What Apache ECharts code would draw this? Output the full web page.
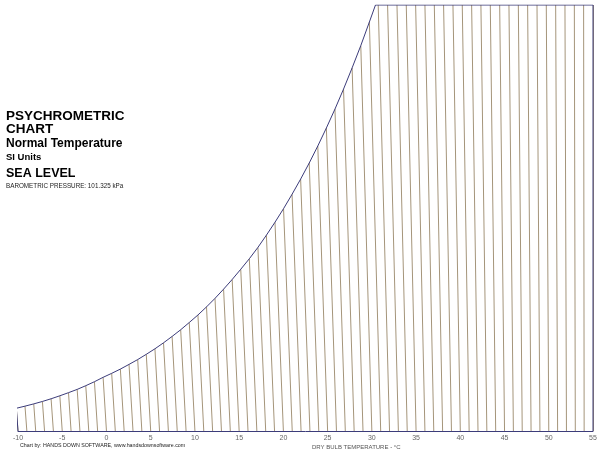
<!DOCTYPE html>
<html>
<head>
<meta charset="utf-8">
<title>Psychrometric Chart</title>
<script src="https://cdn.jsdelivr.net/npm/echarts@6/dist/echarts.min.js"></script>
<style>
    html, body { margin: 0; padding: 0; background: #fff; }
    #chart { width: 600px; height: 457px; }
</style>
</head>
<body>
<div id="chart"></div>
<script>
// dry bulb temperature lines, -10 .. 55 °C
var dbTemps = [-10, -9, -8, -7, -6, -5, -4, -3, -2, -1, 0, 1, 2, 3, 4, 5, 6, 7, 8, 9, 10,
    11, 12, 13, 14, 15, 16, 17, 18, 19, 20, 21, 22, 23, 24, 25, 26, 27, 28, 29, 30,
    31, 32, 33, 34, 35, 36, 37, 38, 39, 40, 41, 42, 43, 44, 45, 46, 47, 48, 49, 50,
    51, 52, 53, 54, 55];
// where each line ends at the top (x on the temperature scale, humidity ratio g/kg)
var topX = [-10.19, -9.21, -8.22, -7.24, -6.26, -5.27, -4.29, -3.31, -2.34, -1.36, -0.38,
    0.59, 1.57, 2.55, 3.53, 4.50, 5.48, 6.45, 7.42, 8.39, 9.36,
    10.34, 11.31, 12.27, 13.24, 14.21, 15.18, 16.15, 17.12, 18.08, 19.05,
    20.02, 20.98, 21.95, 22.92, 23.89, 24.86, 25.83, 26.80, 27.77, 28.75,
    29.72, 30.72, 31.78, 32.84, 33.89, 34.95, 36.00, 37.06, 38.11, 39.17,
    40.22, 41.28, 42.33, 43.39, 44.45, 45.50, 46.56, 47.61, 48.67, 49.72,
    50.78, 51.83, 52.89, 53.94, 55];
var topW = [1.60, 1.75, 1.91, 2.08, 2.27, 2.48, 2.70, 2.93, 3.19, 3.47, 3.78,
    4.06, 4.36, 4.69, 5.03, 5.40, 5.79, 6.21, 6.66, 7.13, 7.64,
    8.17, 8.74, 9.34, 9.99, 10.67, 11.39, 12.13, 12.93, 13.79, 14.70,
    15.66, 16.67, 17.74, 18.87, 20.07, 21.34, 22.67, 24.08, 25.57, 27.14,
    28.80, 30, 30, 30, 30, 30, 30, 30, 30, 30,
    30, 30, 30, 30, 30, 30, 30, 30, 30, 30,
    30, 30, 30, 30, 30];
// saturation curve meets the top of the chart here
var cornerX = 30.41;
var maxW = 30;
var xTicks = [-10, 55, 5];

var chart = echarts.init(document.getElementById('chart'));

var dbLines = [];
for (var i = 0; i < dbTemps.length; i++) {
    dbLines.push({ coords: [[dbTemps[i], 0], [topX[i], topW[i]]] });
}

// outline: left edge, saturation curve, top, right edge
var outline = [[dbTemps[0], 0]];
for (var j = 0; j < topW.length && topW[j] < maxW; j++) {
    outline.push([topX[j], topW[j]]);
}
outline.push([cornerX, maxW]);
outline.push([dbTemps[dbTemps.length - 1], maxW]);
outline.push([dbTemps[dbTemps.length - 1], 0]);

var font = 'Liberation Sans, Arial, sans-serif';

var option = {
    animation: false,
    grid: { left: 18, right: 7, top: 5, bottom: 26 },
    xAxis: {
        type: 'value',
        min: xTicks[0],
        max: xTicks[1],
        interval: xTicks[2],
        splitLine: { show: false },
        axisTick: { show: false },
        axisLine: { lineStyle: { color: '#3c3c7a', width: 1 } },
        axisLabel: { color: '#666', fontSize: 7, fontFamily: font, margin: 4 }
    },
    yAxis: {
        type: 'value',
        min: 0,
        max: maxW,
        show: false
    },
    series: [
        {
            type: 'lines',
            coordinateSystem: 'cartesian2d',
            silent: true,
            lineStyle: { color: '#a5957a', width: 1, opacity: 1 },
            data: dbLines
        },
        {
            type: 'line',
            data: outline,
            symbol: 'none',
            silent: true,
            lineStyle: { color: '#3c3c7a', width: 1 }
        }
    ],
    graphic: [
        { type: 'text', left: 6, top: 109, style: { text: 'PSYCHROMETRIC', font: 'bold 13.5px ' + font, fill: '#000' } },
        { type: 'text', left: 6, top: 122, style: { text: 'CHART', font: 'bold 13.5px ' + font, fill: '#000' } },
        { type: 'text', left: 6, top: 138, style: { text: 'Normal Temperature', font: 'bold 12px ' + font, fill: '#000' } },
        { type: 'text', left: 6, top: 152.5, style: { text: 'SI Units', font: 'bold 9.5px ' + font, fill: '#000' } },
        { type: 'text', left: 6, top: 167, style: { text: 'SEA LEVEL', font: 'bold 12.5px ' + font, fill: '#000' } },
        { type: 'text', left: 6, top: 183, style: { text: 'BAROMETRIC PRESSURE: 101.325 kPa', font: '6.3px ' + font, fill: '#222' } },
        { type: 'text', left: 312, top: 444, style: { text: 'DRY BULB TEMPERATURE - °C', font: '6px ' + font, fill: '#555' } },
        { type: 'text', left: 20, top: 443, style: { text: 'Chart by: HANDS DOWN SOFTWARE, www.handsdownsoftware.com', font: '5.3px ' + font, fill: '#222' } }
    ]
};
chart.setOption(option);
</script>
</body>
</html>
